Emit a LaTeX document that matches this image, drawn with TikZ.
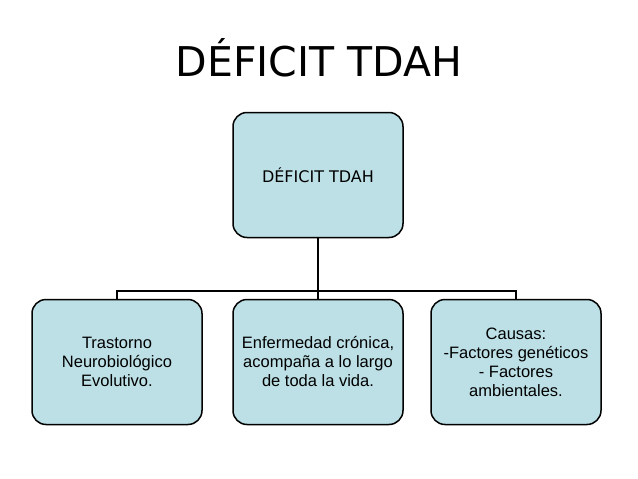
\documentclass[tikz,border=0pt]{standalone}
\usepackage{fontspec}
\setmainfont{Liberation Sans}
\newfontfamily\titlefont{DejaVu Sans}
\definecolor{boxfill}{RGB}{188,224,230}
\begin{document}
\begin{tikzpicture}[x=1pt,y=-1pt,
  cbox/.style={draw=black,line width=1.5pt,fill=boxfill,rounded corners=14pt,minimum width=170pt,minimum height=125pt,align=center,font=\fontsize{16.5}{19}\selectfont,inner sep=1pt},
  conn/.style={line width=2pt,draw=black}]
\useasboundingbox (0,0) rectangle (638,479);
\node[font=\titlefont\fontsize{41}{44}\selectfont] (title) at (319,58) {DÉFICIT TDAH};
\node[cbox,font=\titlefont\fontsize{16}{18}\selectfont] (top) at (318,175) {DÉFICIT TDAH};
\node[cbox] (b1) at (117,362) {Trastorno\\Neurobiológico\\Evolutivo.};
\node[cbox] (b2) at (318,362) {Enfermedad crónica,\\acompaña a lo largo\\de toda la vida.};
\node[cbox] (b3) at (516,362) {Causas:\\-Factores genéticos\\- Factores\\ambientales.};
\coordinate (j) at (318,291);
\draw[conn] (top.south) -- (j);
\draw[conn] (j) -| (b1.north);
\draw[conn] (j) -- (b2.north);
\draw[conn] (j) -| (b3.north);
\end{tikzpicture}
\end{document}
